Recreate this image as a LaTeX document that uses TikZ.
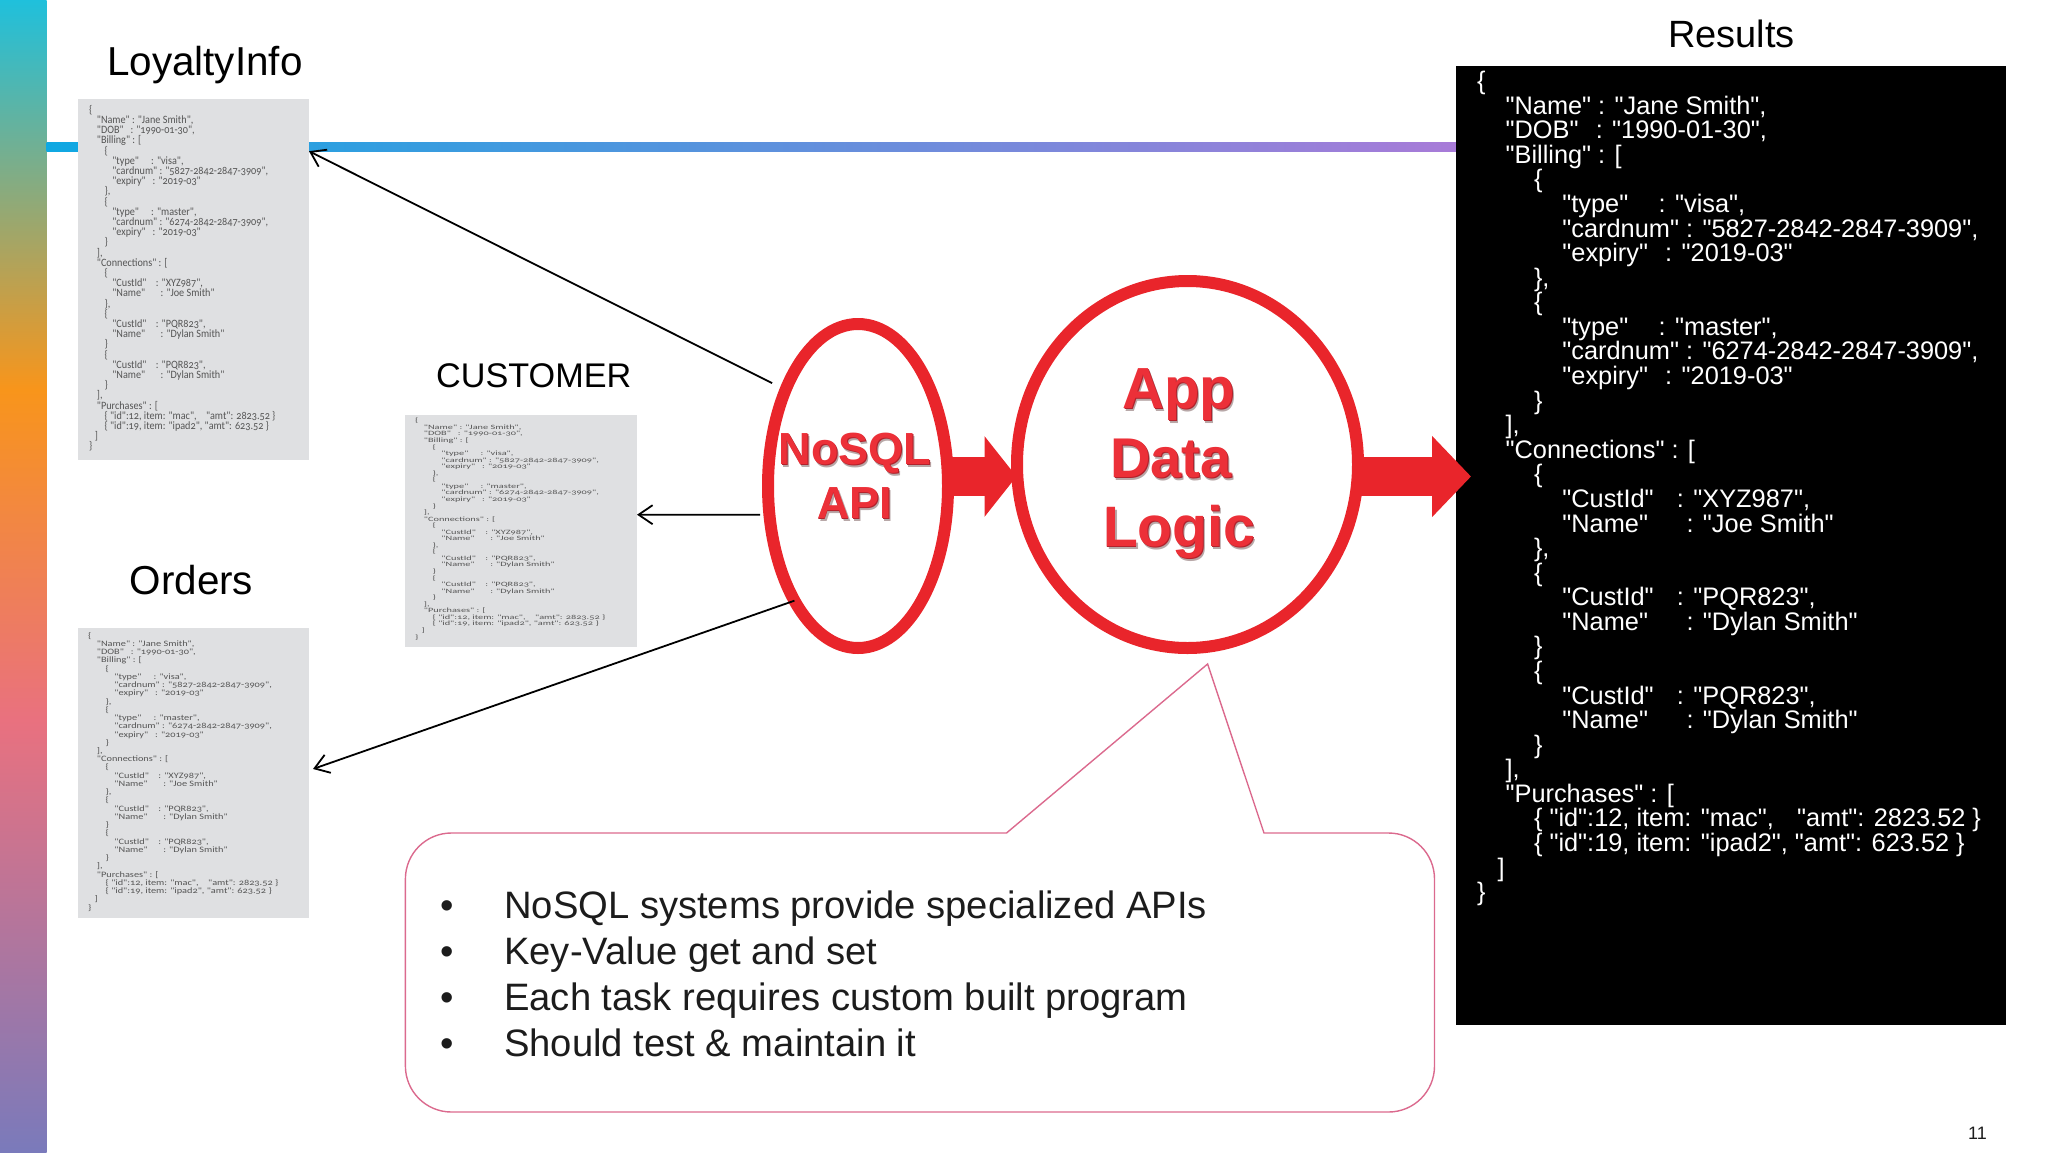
\documentclass[tikz,border=0pt]{standalone}
\usepackage{fontspec}
\setmainfont{Liberation Sans}
\newfontfamily\arialfont{Liberation Sans}
\newfontfamily\jsonfont[Numbers=OldStyle]{Carlito}
\usetikzlibrary{arrows.meta,shapes.geometric}
\definecolor{stripA}{HTML}{1FC0DC}
\definecolor{stripB}{HTML}{F8951B}
\definecolor{stripC}{HTML}{E9717F}
\definecolor{stripD}{HTML}{7A7ABB}
\definecolor{barL}{HTML}{0FA8E2}
\definecolor{barR}{HTML}{A87BD8}
\definecolor{noredd}{HTML}{E9252B}
\definecolor{redface}{HTML}{EC3038}
\definecolor{reddark}{HTML}{B2222C}
\definecolor{redshadow}{HTML}{B8A8A8}
\definecolor{boxgray}{HTML}{DFE0E2}
\definecolor{jsongray}{HTML}{555555}
\definecolor{calloutpink}{HTML}{DB6A8E}
\definecolor{bodytext}{HTML}{1C1C1C}
\pgfdeclareverticalshading{stripshade}{100bp}{color(0bp)=(stripD); color(25bp)=(stripD); color(43.75bp)=(stripC); color(58.1bp)=(stripB); color(75bp)=(stripA); color(100bp)=(stripA)}
\newlength\jind
\newcommand\ia{\hspace*{\jind}}
\newcommand\ib{\hspace*{2\jind}}
\newcommand\ic{\hspace*{3\jind}}
\newcommand\jsonbody{%
\{\\
\ia"Name" : "Jane Smith",\\
\ia"DOB"\hspace{.68em}: "1990-01-30",\\
\ia"Billing" : [\\
\ib\{\\
\ic"type"\hspace{1.2em}: "visa",\\
\ic"cardnum" : "5827-2842-2847-3909",\\
\ic"expiry"\hspace{.68em}: "2019-03"\\
\ib\},\\
\ib\{\\
\ic"type"\hspace{1.2em}: "master",\\
\ic"cardnum" : "6274-2842-2847-3909",\\
\ic"expiry"\hspace{.68em}: "2019-03"\\
\ib\}\\
\ia],\\
\ia"Connections" : [\\
\ib\{\\
\ic"CustId"\hspace{.92em}: "XYZ987",\\
\ic"Name"\hspace{1.52em}: "Joe Smith"\\
\ib\},\\
\ib\{\\
\ic"CustId"\hspace{.92em}: "PQR823",\\
\ic"Name"\hspace{1.52em}: "Dylan Smith"\\
\ib\}\\
\ib\{\\
\ic"CustId"\hspace{.92em}: "PQR823",\\
\ic"Name"\hspace{1.52em}: "Dylan Smith"\\
\ib\}\\
\ia],\\
\ia"Purchases" : [\\
\ib\{ "id":12, item: "mac",\hspace{.92em}"amt": 2823.52 \}\\
\ib\{ "id":19, item: "ipad2", "amt": 623.52 \}\\
\hspace*{.72\jind}]\\
\}}
\newcommand\emboss[1]{\rlap{\kern2pt\raisebox{-3pt}{\textcolor{redshadow}{#1}}}\rlap{\kern.8pt\raisebox{-1.2pt}{\textcolor{reddark}{#1}}}\textcolor{redface}{#1}}
\tikzset{
  slidetitle/.style={anchor=base west,inner sep=0pt,text=black,font=\fontsize{40.4}{40}\selectfont},
  graybox/.style={rectangle,fill=boxgray,inner sep=0pt,outer sep=0pt},
  graytext/.style={anchor=north west,inner sep=0pt,align=left,text=jsongray,transform shape,
    font=\jsonfont\fontsize{10}{10}\selectfont,execute at begin node={\setlength\jind{8.5pt}}},
  resulttext/.style={anchor=north west,inner sep=0pt,align=left,text=white,
    font=\arialfont\fontsize{25.35}{24.58}\selectfont,execute at begin node={\setlength\jind{28.4pt}}},
  ring/.style={ellipse,draw=noredd,line width=12pt,inner sep=0pt,outer sep=0pt},
  emb/.style={anchor=base,inner sep=0pt,font=\bfseries},
  conn/.style={draw=black,line width=1.8pt,-{Straight Barb[length=14pt,width=19pt]}},
  bigflow/.style={draw=noredd,line width=39pt}
}
\begin{document}
\begin{tikzpicture}[x=1pt,y=-1pt]
\useasboundingbox (0,0) rectangle (2048,1152);
\shade[shading=stripshade] (0,0) rectangle (46.5,1152);
\shade[left color=barL,right color=barR] (46.5,142.7) rectangle (1456,151.7);

% gray JSON pictures
\node[graybox,minimum width=231pt,minimum height=361pt] (loyalty) at (193.5,279.5) {};
\node[graybox,minimum width=232pt,minimum height=232pt] (customer) at (521,531) {};
\node[graybox,minimum width=231pt,minimum height=290pt] (orders) at (193.5,773) {};
\node[graytext,font=\jsonfont\fontsize{11.2}{10.2}\selectfont,xscale=.91] (loyaltytext) at (89,105) {\jsonbody};
\node[graytext,xscale=1.03,yscale=.655] (customertext) at (415,418) {\jsonbody};
\node[graytext,xscale=1.03,yscale=.824] (orderstext) at (88,632) {\jsonbody};

% titles
\node[slidetitle] (loyaltytitle) at (107,75) {LoyaltyInfo};
\node[slidetitle,font=\fontsize{34.2}{34.5}\selectfont] (customertitle) at (436,387) {CUSTOMER};
\node[slidetitle] (orderstitle) at (129.5,594) {Orders};
\node[slidetitle,font=\fontsize{38}{38}\selectfont] (resultstitle) at (1668,47) {Results};

% results panel
\node[rectangle,fill=black,inner sep=0pt,outer sep=0pt,minimum width=550.5pt,minimum height=959pt] (results) at (1730.75,545.5) {};
\node[resulttext] (resultstext) at (1477,71) {\jsonbody};

% rings
\node[ring,minimum width=180pt,minimum height=324pt] (api) at (858,486) {};
\node[ring,minimum width=341pt,minimum height=367pt] (app) at (1187.5,464.5) {};
\coordinate (flow) at (0,476.5);
\draw[bigflow,shorten >=.5pt,-{Triangle[length=32pt,width=79pt]}] (api.east |- flow) -- (app.west |- flow);
\draw[bigflow,shorten >=-15.5pt,-{Triangle[length=39pt,width=79pt]}] (app.east |- flow) -- (results.west |- flow);

% ring labels
\node[emb,font=\bfseries\fontsize{45}{45}\selectfont] (nosql) at (855,464) {\emboss{NoSQL}};
\node[emb,font=\bfseries\fontsize{45}{45}\selectfont] (apilabel) at (854.5,518) {\emboss{API}};
\node[emb,font=\bfseries\fontsize{58}{58}\selectfont] (applabel) at (1179,408) {\emboss{App}};
\node[emb,font=\bfseries\fontsize{56}{56}\selectfont] (datalabel) at (1171,477) {\emboss{Data}};
\node[emb,font=\bfseries\fontsize{57}{57}\selectfont] (logiclabel) at (1179,546) {\emboss{Logic}};

% connectors
\draw[conn,shorten <=15pt] (api.127) -- (loyalty.48);
\draw[conn,shorten <=9.4pt] (api.198) -- (customer.8);
\draw[conn] (api.241.3) -- ([xshift=4pt]orders.2.4);

% callout
\coordinate (calloutL) at (1006.5,833);
\coordinate (calloutTip) at (1207.6,664);
\coordinate (calloutR) at (1264,833);
\draw[calloutpink,line width=1.4pt] (calloutL) -- (calloutTip) -- (calloutR)
  [rounded corners=46pt] -- (1434.5,833) -- (1434.5,1112) -- (405.4,1112) -- (405.4,833) -- (calloutL);
\node[anchor=base west,inner sep=0pt,align=left,text=bodytext,font=\fontsize{38.2}{46}\selectfont] (bullets) at (440,1056)
  {\makebox[64pt][l]{•}NoSQL systems provide specialized APIs\\
   \makebox[64pt][l]{•}Key-Value get and set\\
   \makebox[64pt][l]{•}Each task requires custom built program\\
   \makebox[64pt][l]{•}Should test \& maintain it};
\node[anchor=base west,inner sep=0pt,text=bodytext,font=\fontsize{18}{18}\selectfont] (pagenum) at (1968,1139) {11};
\end{tikzpicture}
\end{document}
